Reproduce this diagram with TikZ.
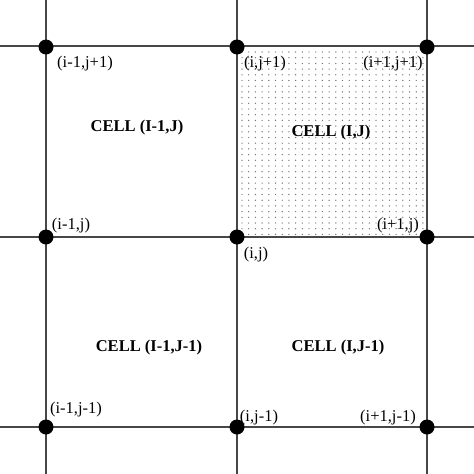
\documentclass[tikz,border=0pt]{standalone}
\usepackage{fontspec}
\setmainfont{Liberation Serif}
\begin{document}
\begin{tikzpicture}[x=1pt,y=-1pt,
  gridline/.style={line width=1.4pt, draw=black!72},
  vertex/.style={circle, fill=black, inner sep=0pt, minimum size=15pt},
  lbl/.style={font=\fontsize{16.5}{18}\selectfont, inner sep=0pt},
  cell/.style={font=\fontsize{16.5}{18}\selectfont\bfseries, inner sep=0pt},
  speck/.style={fill=black!55}]
\useasboundingbox (0,0) rectangle (474,474);
\fill[white] (0,0) rectangle (474,474);
% dotted fill of cell (I,J)
\foreach \xx in {0,...,27} {
  \foreach \yy in {0,...,32} {
    \fill[speck] (242+\xx*6.7,52+\yy*5.7) circle (0.7);
  }
}
% grid lines
\foreach \p/\n in {46/a,237/b,427/c} {
  \coordinate (vt\n) at (\p,0);
  \coordinate (vb\n) at (\p,474);
  \coordinate (hl\n) at (0,\p);
  \coordinate (hr\n) at (474,\p);
  \draw[gridline] (vt\n) -- (vb\n);
  \draw[gridline] (hl\n) -- (hr\n);
}
% vertices
\node[vertex] (v11) at (46,47) {};
\node[vertex] (v21) at (237,47) {};
\node[vertex] (v31) at (427,47) {};
\node[vertex] (v12) at (46,237) {};
\node[vertex] (v22) at (237,237) {};
\node[vertex] (v32) at (427,237) {};
\node[vertex] (v13) at (46,427) {};
\node[vertex] (v23) at (237,427) {};
\node[vertex] (v33) at (427,427) {};
% labels
\node[lbl] (l11) at (85,64) {(i-1,j+1)};
\node[lbl] (l21) at (265,64) {(i,j+1)};
\node[lbl] (l31) at (393,64) {(i+1,j+1)};
\node[lbl] (l12) at (71,226) {(i-1,j)};
\node[lbl] (l32) at (398,226) {(i+1,j)};
\node[lbl] (l22) at (256,255) {(i,j)};
\node[lbl] (l13) at (76,410) {(i-1,j-1)};
\node[lbl] (l23) at (259,418) {(i,j-1)};
\node[lbl] (l33) at (388,418) {(i+1,j-1)};
% cell names
\node[cell] (c1) at (137,128) {CELL (I-1,J)};
\node[cell] (c2) at (331,133) {CELL (I,J)};
\node[cell] (c3) at (149,348) {CELL (I-1,J-1)};
\node[cell] (c4) at (338,348) {CELL (I,J-1)};
\end{tikzpicture}
\end{document}
